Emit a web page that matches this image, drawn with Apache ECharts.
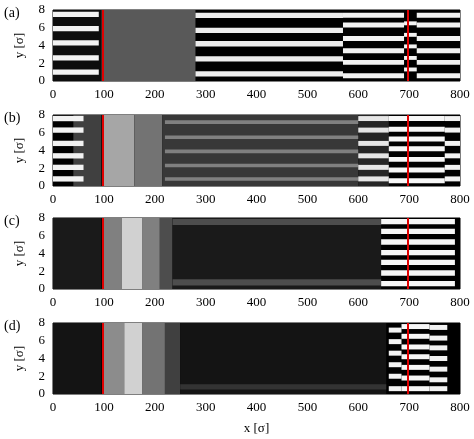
<!DOCTYPE html>
<html><head><meta charset="utf-8">
<script src="https://cdn.jsdelivr.net/npm/echarts@6/dist/echarts.min.js"></script>
<style>html,body{margin:0;padding:0;background:#fff}#c{width:474px;height:439px}</style>
</head><body><div id="c"></div>
<script>
const panelLabels = ['(a)','(b)','(c)','(d)'];
const xTicks = [0,100,200,300,400,500,600,700,800];
const yTicks = [0,2,4,6,8];
const redLines = [98, 698];
// noisy / light regions: [x0, x1, y0, y1, whiteness 0..1]
const regionsA = [[95,280,0,8,0.35],[0,95,0,8,0.05]];
const regionsB = [[40,95,0,8,0.25],[100,160,0,8,0.65],[160,215,0,8,0.45],[215,600,0,8,0.22],[600,660,0,8,0.15]];
const regionsC = [[0,95,0,8,0.1],[100,135,0,8,0.5],[135,175,0,8,0.82],[175,210,0,8,0.5],[210,235,0,8,0.3],[235,645,0,8,0.1],[235,645,7.2,7.9,0.3],[235,645,0.4,1.1,0.3]];
const regionsD = [[0,95,0,8,0.08],[100,140,0,8,0.55],[140,175,0,8,0.82],[175,220,0,8,0.45],[220,250,0,8,0.25],[250,655,0,8,0.08],[250,655,0.5,1.1,0.2]];
// stripe bands: [x0, x1, halfWidth, whiteness, centers...]
const bandsA = [
  [0,90,0.3,0.95,1.0,2.6,4.3,5.9,7.5],
  [280,570,0.3,0.93,0.8,2.5,4.2,5.7,7.4],
  [570,690,0.28,0.95,0.6,2.1,3.4,4.8,6.3,7.4],
  [715,800,0.28,0.95,0.6,2.1,3.4,4.8,6.3,7.4],
  [690,715,0.22,0.95,1.3,2.6,3.9,5.2,6.5]
];
const bandsB = [
  [0,60,0.3,0.95,0.8,2.1,3.4,4.8,6.3,7.6],
  [220,600,0.2,0.5,0.8,2.3,3.9,5.5,7.2],
  [600,660,0.28,0.9,0.8,2.1,3.4,4.8,6.3,7.6],
  [660,770,0.28,0.97,0.6,1.8,3.0,4.2,5.3,6.4,7.6],
  [770,800,0.28,0.95,0.8,2.1,3.4,4.8,6.3,7.6]
];
const bandsC = [
  [645,790,0.3,0.97,0.6,1.8,3.0,4.1,5.3,6.5,7.6]
];
const bandsD = [
  [660,685,0.28,0.95,0.6,2.0,3.3,4.6,5.9,7.2],
  [685,740,0.28,0.97,0.6,1.8,3.0,4.2,5.3,6.5,7.6],
  [740,775,0.28,0.95,0.6,1.6,2.8,4.0,5.2,6.3,7.5]
];
const panelRegions = [regionsA, regionsB, regionsC, regionsD];
const panelBands = [bandsA, bandsB, bandsC, bandsD];

const tops = [10, 115, 218, 323];
const H = 71;
const font = 'Liberation Serif';
const grids = [], xAxes = [], yAxes = [], series = [], graphics = [];

function rectRender(params, api) {
  const x0 = api.value(0), x1 = api.value(1), y0 = api.value(2), y1 = api.value(3), s = api.value(4);
  const p0 = api.coord([x0, y1]), p1 = api.coord([x1, y0]);
  const r = echarts.graphic.clipRectByRect(
    {x: p0[0], y: p0[1], width: p1[0]-p0[0], height: p1[1]-p0[1]},
    {x: params.coordSys.x, y: params.coordSys.y, width: params.coordSys.width, height: params.coordSys.height});
  if (!r) return;
  const g = Math.round(255 * s);
  return {type: 'rect', shape: r, style: {fill: `rgb(${g},${g},${g})`}};
}

for (let i = 0; i < 4; i++) {
  grids.push({left: 53, right: 14, top: tops[i], height: H, backgroundColor: '#000', show: true, borderColor: '#000', borderWidth: 1});
  xAxes.push({gridIndex: i, type: 'value', min: 0, max: 800, interval: 100,
    axisLine: {show: false}, axisTick: {show: false}, splitLine: {show: false},
    axisLabel: {fontFamily: font, fontSize: 13, color: '#000', margin: 7},
    name: i === 3 ? 'x [σ]' : '', nameLocation: 'middle', nameGap: 28,
    nameTextStyle: {fontFamily: font, fontSize: 13, color: '#000'}});
  yAxes.push({gridIndex: i, type: 'value', min: 0, max: 8, interval: 2,
    axisLine: {show: false}, axisTick: {show: false}, splitLine: {show: false},
    axisLabel: {fontFamily: font, fontSize: 13, color: '#000', margin: 8},
    name: 'y [σ]', nameLocation: 'middle', nameGap: 27, nameRotate: 90,
    nameTextStyle: {fontFamily: font, fontSize: 13, color: '#000'}});
  const rects = panelRegions[i].map(r => r.slice());
  panelBands[i].forEach(b => {
    const [x0, x1, hw, s] = b;
    b.slice(4).forEach(c => rects.push([x0, x1, c - hw, c + hw, s]));
  });
  series.push({type: 'custom', xAxisIndex: i, yAxisIndex: i, renderItem: rectRender, data: rects, silent: true, clip: true, z: 2});
  series.push({type: 'line', xAxisIndex: i, yAxisIndex: i, data: [], silent: true, symbol: 'none', z: 5,
    markLine: {silent: true, symbol: 'none', label: {show: false},
      lineStyle: {color: '#e00000', width: 2, type: 'solid'},
      data: redLines.map(v => ({xAxis: v}))}});
  graphics.push({type: 'text', left: 4, top: tops[i] - 4, style: {text: panelLabels[i], font: `14px "${font}"`, fill: '#000'}});
}

const chart = echarts.init(document.getElementById('c'));
chart.setOption({animation: false, grid: grids, xAxis: xAxes, yAxis: yAxes, series, graphic: graphics});
</script></body></html>
